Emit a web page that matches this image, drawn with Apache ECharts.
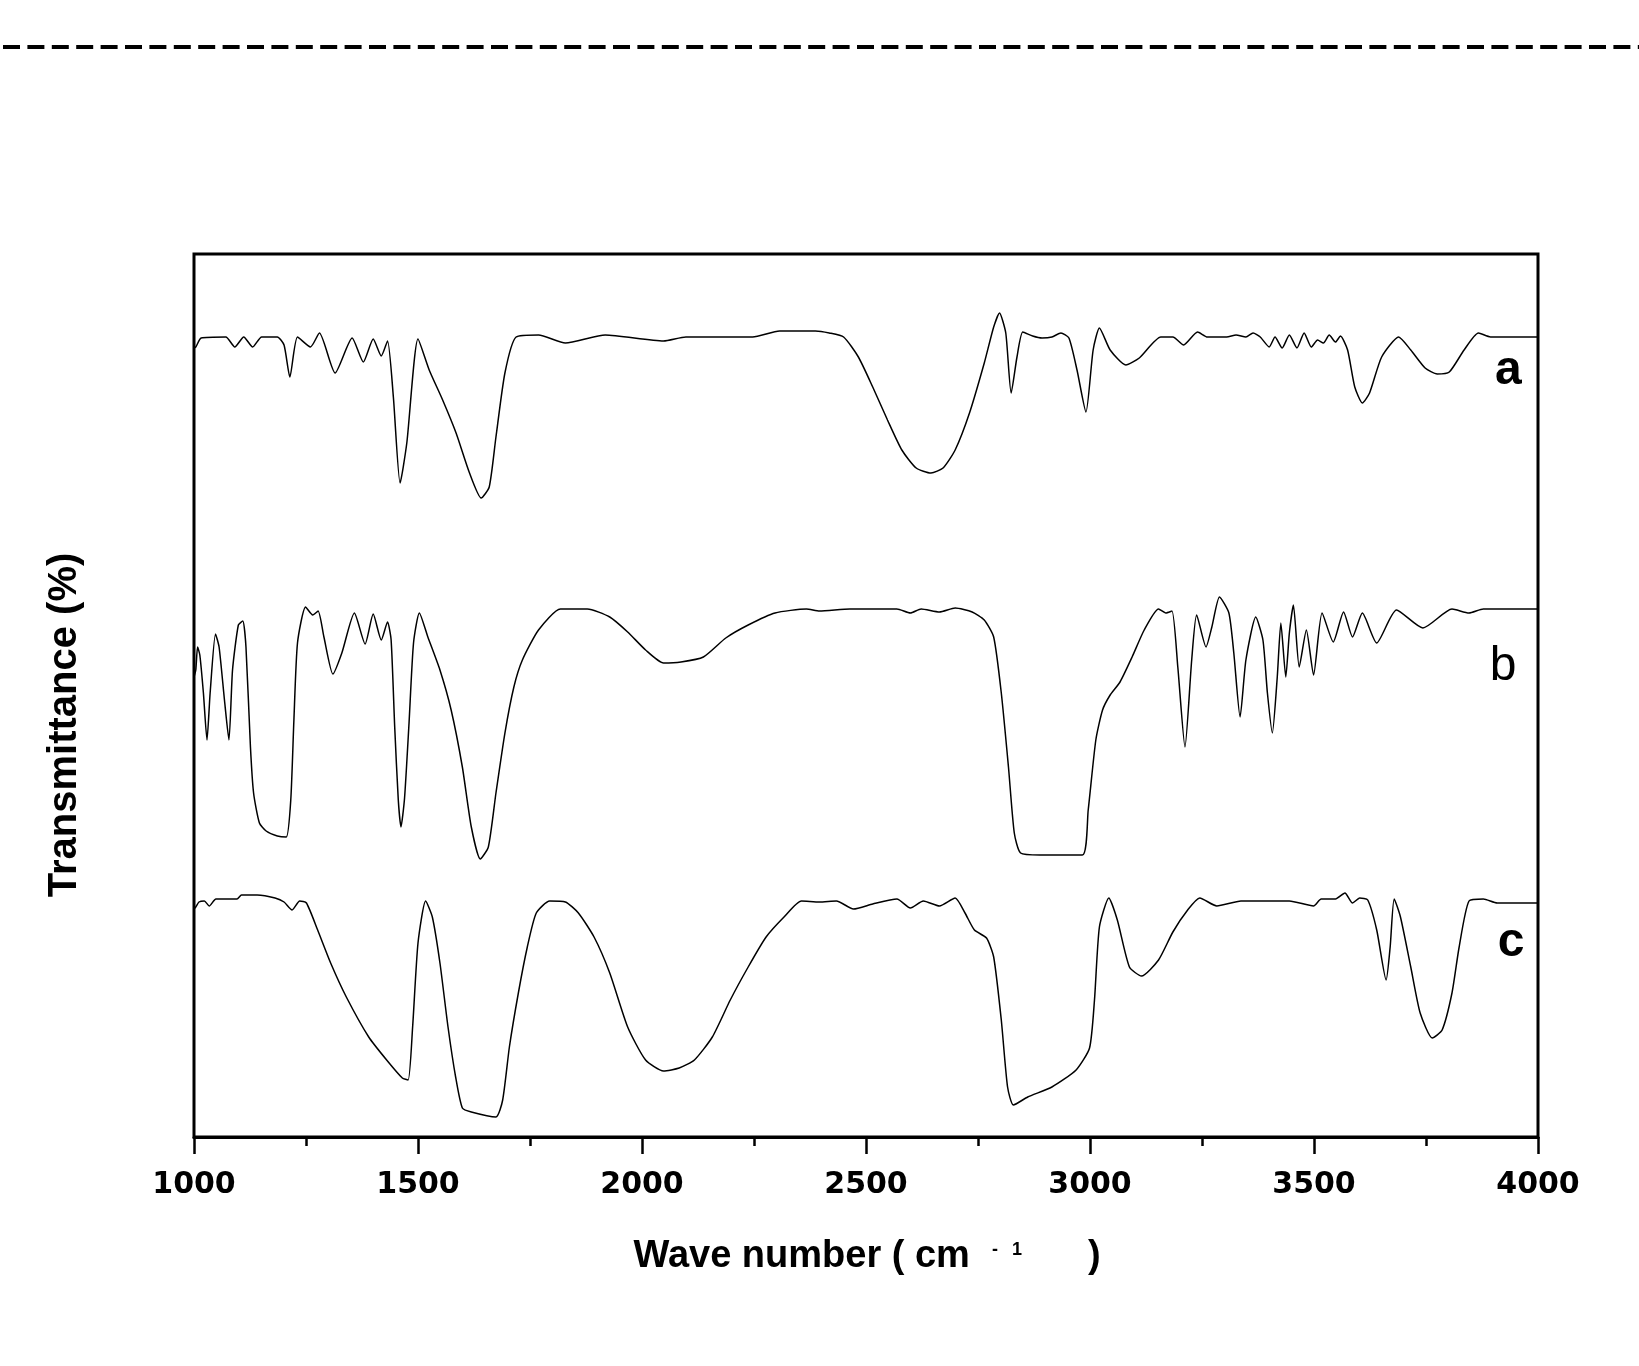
<!DOCTYPE html>
<html>
<head>
<meta charset="utf-8">
<script src="https://cdn.jsdelivr.net/npm/echarts@6/dist/echarts.min.js"></script>
<style>
html,body{margin:0;padding:0;background:#fff;}
#chart{width:1639px;height:1366px;}
</style>
</head>
<body>
<div id="chart"></div>
<script>
// x tick values
var xTicks = [1000, 1500, 2000, 2500, 3000, 3500, 4000];

// curve a (top)
var aWave = [1000,1004,1016,1071,1091,1111,1131,1151,1186,1201,1214,1231,1260,1280,1315,1353,1378,1400,1418,1432,1445,1460,1475,1500,1525,1555,1585,1615,1641,1659,1674,1694,1719,1769,1829,1918,2048,2098,2247,2307,2387,2418,2450,2483,2515,2548,2580,2612,2645,2672,2699,2731,2764,2785,2798,2812,2824,2837,2850,2872,2893,2915,2935,2953,2971,2991,3007,3021,3045,3080,3110,3158,3185,3209,3240,3262,3305,3326,3348,3364,3380,3400,3413,3429,3445,3462,3478,3494,3508,3521,3534,3548,3559,3575,3591,3608,3624,3651,3689,3716,3748,3775,3802,3835,3867,3894,4000];
var aTrans = [789,790,799,800,790,800,790,800,800,792,760,800,790,804,764,799,775,798,781,796,740,654,694,798,767,737,704,664,639,650,700,764,800,802,794,802,796,800,800,806,806,804,800,780,750,717,687,669,664,669,687,724,774,810,824,804,744,780,805,801,799,800,804,799,767,725,787,809,787,772,779,800,800,792,805,800,800,802,800,804,800,790,800,789,802,789,804,790,797,794,802,795,801,787,750,734,744,780,800,787,769,763,765,787,804,800,800];

// curve b (middle)
var bWave = [1000,1004,1008,1013,1021,1029,1036,1048,1056,1068,1078,1086,1099,1109,1116,1126,1133,1146,1161,1186,1206,1216,1223,1231,1249,1265,1277,1290,1310,1330,1358,1382,1400,1418,1432,1440,1448,1456,1462,1470,1480,1490,1503,1522,1549,1574,1599,1619,1639,1657,1674,1694,1714,1733,1769,1818,1878,1928,1968,2008,2048,2087,2137,2187,2237,2297,2367,2396,2464,2569,2599,2623,2664,2699,2737,2764,2785,2802,2818,2831,2845,2888,2983,2996,3013,3028,3045,3067,3094,3121,3153,3169,3183,3196,3212,3227,3238,3259,3272,3289,3310,3321,3335,3348,3370,3386,3396,3407,3418,3426,3437,3445,3454,3467,3483,3499,3518,3543,3566,3586,3608,3640,3684,3743,3808,3846,3878,4000];
var bTrans = [460,467,490,482,444,397,444,503,490,437,397,467,512,516,490,390,344,314,306,301,300,337,417,494,530,522,526,500,463,484,524,493,523,497,515,497,410,337,310,339,414,494,524,500,467,427,370,310,278,290,344,404,450,477,507,528,528,520,505,487,474,475,480,499,512,524,528,526,528,528,524,528,525,529,525,517,500,444,370,304,284,282,282,327,397,427,442,455,480,507,528,524,526,470,390,477,522,490,510,540,524,484,420,477,520,497,444,404,460,514,460,504,532,470,507,462,524,495,525,500,524,494,527,509,528,524,528,528];

// curve c (bottom)
var cWave = [1000,1004,1011,1023,1034,1049,1096,1106,1141,1181,1201,1219,1236,1251,1276,1305,1340,1390,1430,1465,1478,1488,1500,1517,1532,1549,1567,1584,1599,1619,1674,1689,1704,1724,1744,1764,1794,1829,1858,1893,1928,1968,2008,2048,2083,2117,2157,2197,2237,2277,2317,2356,2396,2434,2472,2515,2569,2599,2628,2664,2699,2721,2742,2769,2785,2802,2816,2829,2861,2915,2969,2999,3010,3021,3042,3061,3088,3115,3153,3185,3218,3245,3283,3337,3391,3445,3499,3516,3548,3569,3586,3602,3620,3640,3661,3670,3679,3693,3716,3737,3764,3786,3808,3824,3846,3878,3909,4000];
var cTrans = [228,230,235,236,231,238,238,242,242,239,235,227,236,234,207,174,140,100,77,59,57,110,194,236,220,174,110,60,29,25,20,37,90,144,190,224,236,235,224,200,164,110,77,66,69,77,100,137,170,200,220,236,235,236,228,233,238,229,236,231,239,224,207,199,180,117,50,32,40,50,67,89,137,210,239,217,170,161,177,205,227,239,231,236,236,236,231,238,238,244,234,239,237,207,157,190,238,220,170,124,99,107,144,190,236,238,234,234];

// curve labels
var curveNames = ['a', 'b', 'c'];
var labelWave = [3934, 3922, 3940];
var labelTrans = [766, 470, 194];

function pairs(xs, ys) {
  var out = [];
  for (var i = 0; i < xs.length; i++) out.push([xs[i], ys[i]]);
  return out;
}

var waves = [aWave, bWave, cWave];
var trans = [aTrans, bTrans, cTrans];
var weights = ['bold', 'normal', 'bold'];

var series = curveNames.map(function (name, i) {
  return {
    name: name,
    type: 'line',
    data: pairs(waves[i], trans[i]),
    symbol: 'none',
    smooth: 0.2,
    lineStyle: { color: '#000', width: 1.5 },
    silent: true,
    markPoint: {
      symbol: 'circle',
      symbolSize: 1,
      itemStyle: { color: 'rgba(0,0,0,0)' },
      data: [{ coord: [labelWave[i], labelTrans[i]] }],
      label: {
        show: true,
        position: 'inside',
        formatter: name,
        fontFamily: 'Liberation Sans, Arial, sans-serif',
        fontSize: 48,
        fontWeight: weights[i],
        color: '#000'
      }
    }
  };
});

var chart = echarts.init(document.getElementById('chart'), null, { renderer: 'canvas' });
chart.setOption({
  animation: false,
  backgroundColor: '#fff',
  grid: {
    left: 194, top: 254, right: 101, bottom: 229,
    show: true, borderColor: '#000', borderWidth: 3, backgroundColor: 'transparent'
  },
  xAxis: {
    type: 'value',
    min: xTicks[0],
    max: xTicks[xTicks.length - 1],
    interval: 500,
    axisLine: { show: true, lineStyle: { color: '#000', width: 3 } },
    axisTick: { show: true, length: 17, lineStyle: { color: '#000', width: 2.5 } },
    minorTick: { show: true, splitNumber: 2, length: 9, lineStyle: { color: '#000', width: 2.5 } },
    splitLine: { show: false },
    minorSplitLine: { show: false },
    axisLabel: {
      color: '#000',
      fontFamily: 'DejaVu Sans, sans-serif',
      fontWeight: 'bold',
      fontSize: 30,
      margin: 33,
      formatter: function (v) { return String(v); }
    }
  },
  yAxis: {
    type: 'value',
    min: 0,
    max: 883,
    show: false
  },
  graphic: [
    {
      type: 'line',
      shape: { x1: 3, y1: 47, x2: 1639, y2: 47 },
      style: { stroke: '#000', lineWidth: 4, lineDash: [17, 7.4] },
      silent: true
    },
    {
      type: 'text',
      x: 65, y: 725,
      rotation: Math.PI / 2,
      style: {
        text: 'Transmittance (%)',
        fill: '#000',
        fontFamily: 'Liberation Sans, Arial, sans-serif',
        fontWeight: 'bold',
        fontSize: 40,
        align: 'center',
        verticalAlign: 'middle'
      },
      silent: true
    },
    {
      type: 'text',
      x: 867, y: 1257,
      style: {
        text: '{n|Wave number ( cm}{d|-}{o|1}{p|)}',
        fill: '#000',
        align: 'center',
        verticalAlign: 'middle',
        rich: {
          n: { fontFamily: 'Liberation Sans, Arial, sans-serif', fontWeight: 'bold', fontSize: 38, fill: '#000' },
          d: { fontFamily: 'Liberation Sans, Arial, sans-serif', fontWeight: 'bold', fontSize: 18, fill: '#000', verticalAlign: 'top', padding: [3, 0, 0, 22] },
          o: { fontFamily: 'Liberation Sans, Arial, sans-serif', fontWeight: 'bold', fontSize: 18, fill: '#000', verticalAlign: 'top', padding: [3, 0, 0, 14] },
          p: { fontFamily: 'Liberation Sans, Arial, sans-serif', fontWeight: 'bold', fontSize: 38, fill: '#000', padding: [0, 0, 0, 66] }
        }
      },
      silent: true
    }
  ],
  series: series
});
</script>
</body>
</html>
